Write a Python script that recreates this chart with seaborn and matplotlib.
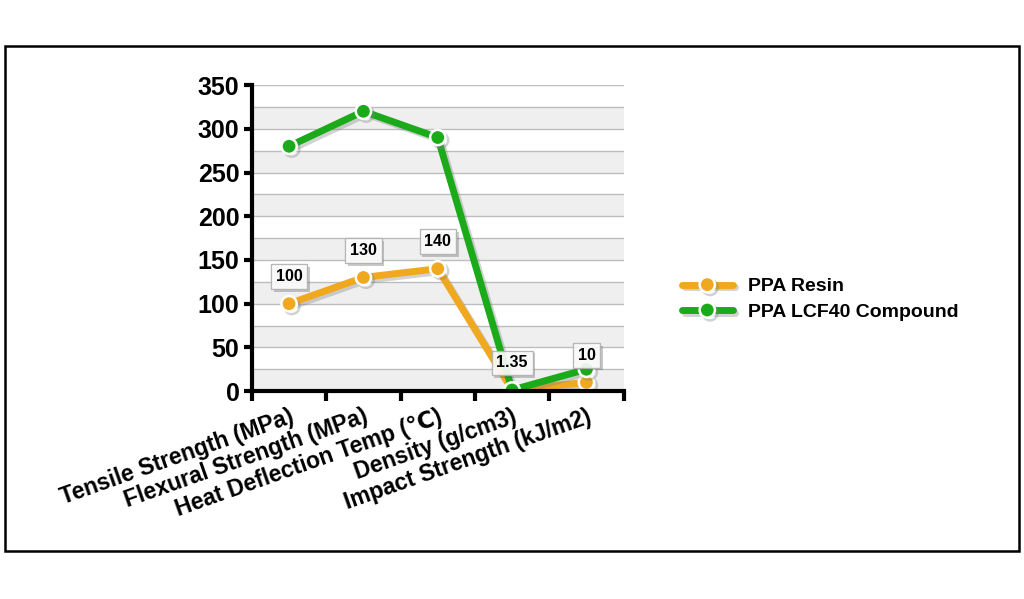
import seaborn as sns
import matplotlib.pyplot as plt
import matplotlib.patheffects as pe
from matplotlib.patches import Rectangle
import pandas as pd

# chart data
properties = ["Tensile Strength (MPa)", "Flexural Strength (MPa)", "Heat Deflection Temp (\u2103)",
              "Density (g/cm3)", "Impact Strength (kJ/m2)"]
resin = [100, 130, 140, 1.35, 10]
compound = [280, 320, 290, 1.35, 25]
series_names = ["PPA Resin", "PPA LCF40 Compound"]
resin_labels = ["100", "130", "140", "1.35", "10"]

df = pd.DataFrame({
    "Property": properties * 2,
    "Value": resin + compound,
    "Series": [series_names[0]] * len(properties) + [series_names[1]] * len(properties),
})

sns.set_style("white")
plt.rcParams['font.family'] = ['Liberation Sans', 'DejaVu Sans']
plt.rcParams['font.weight'] = 'bold'
plt.rcParams['text.color'] = 'black'
plt.rcParams['xtick.color'] = 'black'
plt.rcParams['ytick.color'] = 'black'

fig = plt.figure(figsize=(10.24, 5.99), dpi=100)
ax = fig.add_axes([0.246, 0.347, 0.363, 0.511])

# outer frame
fig.patches.append(Rectangle((5 / 1024, 1 - 551 / 599), 1014 / 1024, 505 / 599,
                             transform=fig.transFigure, fill=False, edgecolor="black", linewidth=1.8))

# striped background
for lo in range(0, 350, 50):
    ax.axhspan(lo, lo + 25, color="#efefef", zorder=0, lw=0)
for y in range(25, 351, 25):
    ax.axhline(y, color="#bdbdbd", lw=1.0, zorder=1)

palette = {series_names[0]: "#F0A81E", series_names[1]: "#1AAA1A"}
shadow = [pe.SimpleLineShadow(offset=(2, -2), shadow_color="gray", alpha=0.35), pe.Normal()]
sns.lineplot(data=df, x="Property", y="Value", hue="Series", palette=palette, ax=ax,
             linewidth=5, marker="o", markersize=11, markeredgecolor="white",
             markeredgewidth=1.8, zorder=3, path_effects=shadow, legend=True)

ax.set_xlim(-0.5, 4.5)
ax.set_ylim(0, 350)
ax.set_xlabel("")
ax.set_ylabel("")

# value labels for resin
for i, (v, t) in enumerate(zip(resin, resin_labels)):
    ax.annotate(t, (i, v), xytext=(0, 27), textcoords="offset pixels",
                ha="center", va="center", fontsize=11.5, fontweight="bold", zorder=6,
                bbox=dict(boxstyle="square,pad=0.3", fc="white", ec="#b0b0b0", lw=1.0, alpha=0.9,
                          path_effects=[pe.SimplePatchShadow(offset=(2, -2), alpha=0.3), pe.Normal()]))

ax.set_yticks(range(0, 351, 50))
ax.tick_params(axis="y", labelsize=18, length=6, width=3, direction="out", left=True, pad=3)
ax.set_xticks(range(len(properties)))
ax.set_xticklabels(properties, rotation=19.5, ha="right", rotation_mode="anchor", fontsize=16.5)
ax.set_xticks([i - 0.5 for i in range(len(properties) + 1)], minor=True)
ax.tick_params(axis="x", which="major", length=0, pad=10)
ax.tick_params(axis="x", which="minor", length=7, width=3, direction="out", bottom=True)
for lbl in ax.get_yticklabels() + ax.get_xticklabels():
    lbl.set_fontweight("bold")

for side in ["top", "right"]:
    ax.spines[side].set_visible(False)
for side in ["left", "bottom"]:
    ax.spines[side].set_linewidth(3)
    ax.spines[side].set_color("black")
    ax.spines[side].set_zorder(5)

leg = ax.legend(loc="center left", bbox_to_anchor=(1.11, 0.3), frameon=False,
                prop={"size": 14, "weight": "bold"}, handlelength=2.6, labelspacing=0.4)

fig.savefig("out.png", dpi=100)
